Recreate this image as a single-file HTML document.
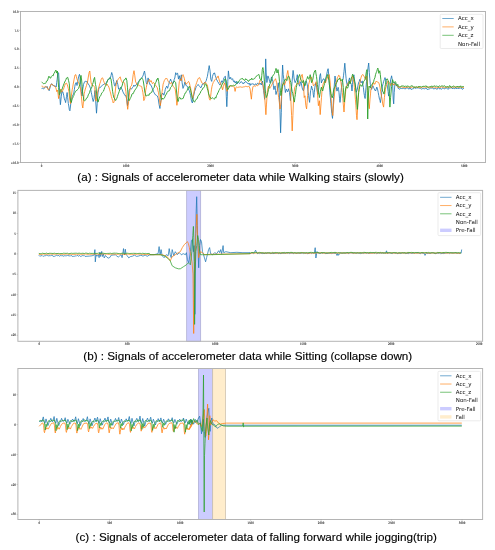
<!DOCTYPE html>
<html><head><meta charset="utf-8"><title>Accelerometer signals</title>
<style>
html,body{margin:0;padding:0;background:#fff;}
svg{display:block;}
.t{font-family:"DejaVu Sans","Liberation Sans",sans-serif;}
.c{font-family:"Liberation Sans",Arial,sans-serif;}
</style></head><body>
<svg width="495" height="550" viewBox="0 0 495 550">
<rect width="495" height="550" fill="#fff"/>
<g>
<rect x="20.5" y="11.5" width="465.0" height="151.0" fill="none" stroke="#b4b4b4" stroke-width="1"/>
<line x1="41.5" y1="162.5" x2="41.5" y2="163.9" stroke="#888" stroke-width="0.35"/>
<text transform="translate(41.50,166.60) scale(0.8,1)" font-size="3.2" text-anchor="middle" fill="#111" stroke="#111" stroke-width="0.08" class="t">0</text>
<line x1="126.05" y1="162.5" x2="126.05" y2="163.9" stroke="#888" stroke-width="0.35"/>
<text transform="translate(126.05,166.60) scale(0.8,1)" font-size="3.2" text-anchor="middle" fill="#111" stroke="#111" stroke-width="0.08" class="t">1000</text>
<line x1="210.6" y1="162.5" x2="210.6" y2="163.9" stroke="#888" stroke-width="0.35"/>
<text transform="translate(210.60,166.60) scale(0.8,1)" font-size="3.2" text-anchor="middle" fill="#111" stroke="#111" stroke-width="0.08" class="t">2000</text>
<line x1="295.15" y1="162.5" x2="295.15" y2="163.9" stroke="#888" stroke-width="0.35"/>
<text transform="translate(295.15,166.60) scale(0.8,1)" font-size="3.2" text-anchor="middle" fill="#111" stroke="#111" stroke-width="0.08" class="t">3000</text>
<line x1="379.7" y1="162.5" x2="379.7" y2="163.9" stroke="#888" stroke-width="0.35"/>
<text transform="translate(379.70,166.60) scale(0.8,1)" font-size="3.2" text-anchor="middle" fill="#111" stroke="#111" stroke-width="0.08" class="t">4000</text>
<line x1="464.25" y1="162.5" x2="464.25" y2="163.9" stroke="#888" stroke-width="0.35"/>
<text transform="translate(464.25,166.60) scale(0.8,1)" font-size="3.2" text-anchor="middle" fill="#111" stroke="#111" stroke-width="0.08" class="t">5000</text>
<line x1="19.1" y1="11.5" x2="20.5" y2="11.5" stroke="#888" stroke-width="0.35"/>
<text transform="translate(18.60,12.65) scale(0.8,1)" font-size="3.2" text-anchor="end" fill="#111" stroke="#111" stroke-width="0.08" class="t">10.0</text>
<line x1="19.1" y1="30.375" x2="20.5" y2="30.375" stroke="#888" stroke-width="0.35"/>
<text transform="translate(18.60,31.52) scale(0.8,1)" font-size="3.2" text-anchor="end" fill="#111" stroke="#111" stroke-width="0.08" class="t">7.5</text>
<line x1="19.1" y1="49.25" x2="20.5" y2="49.25" stroke="#888" stroke-width="0.35"/>
<text transform="translate(18.60,50.40) scale(0.8,1)" font-size="3.2" text-anchor="end" fill="#111" stroke="#111" stroke-width="0.08" class="t">5.0</text>
<line x1="19.1" y1="68.125" x2="20.5" y2="68.125" stroke="#888" stroke-width="0.35"/>
<text transform="translate(18.60,69.28) scale(0.8,1)" font-size="3.2" text-anchor="end" fill="#111" stroke="#111" stroke-width="0.08" class="t">2.5</text>
<line x1="19.1" y1="87.0" x2="20.5" y2="87.0" stroke="#888" stroke-width="0.35"/>
<text transform="translate(18.60,88.15) scale(0.8,1)" font-size="3.2" text-anchor="end" fill="#111" stroke="#111" stroke-width="0.08" class="t">0.0</text>
<line x1="19.1" y1="105.875" x2="20.5" y2="105.875" stroke="#888" stroke-width="0.35"/>
<text transform="translate(18.60,107.03) scale(0.8,1)" font-size="3.2" text-anchor="end" fill="#111" stroke="#111" stroke-width="0.08" class="t">−2.5</text>
<line x1="19.1" y1="124.75" x2="20.5" y2="124.75" stroke="#888" stroke-width="0.35"/>
<text transform="translate(18.60,125.90) scale(0.8,1)" font-size="3.2" text-anchor="end" fill="#111" stroke="#111" stroke-width="0.08" class="t">−5.0</text>
<line x1="19.1" y1="143.625" x2="20.5" y2="143.625" stroke="#888" stroke-width="0.35"/>
<text transform="translate(18.60,144.78) scale(0.8,1)" font-size="3.2" text-anchor="end" fill="#111" stroke="#111" stroke-width="0.08" class="t">−7.5</text>
<line x1="19.1" y1="162.5" x2="20.5" y2="162.5" stroke="#888" stroke-width="0.35"/>
<text transform="translate(18.60,163.65) scale(0.8,1)" font-size="3.2" text-anchor="end" fill="#111" stroke="#111" stroke-width="0.08" class="t">−10.0</text>
<polyline points="41.6,88.5 42.2,88.0 42.8,88.3 43.5,89.0 44.1,88.7 44.7,87.4 45.3,87.0 45.9,86.7 46.5,87.2 47.1,86.4 47.7,88.2 48.3,89.2 49.2,90.7 49.6,89.1 50.1,87.2 50.7,85.3 51.3,84.0 51.9,83.7 52.5,84.5 53.2,85.9 53.8,85.5 54.4,85.8 55.0,86.0 55.6,86.3 56.2,87.0 56.7,82.6 57.2,79.2 57.8,73.4 58.6,72.8 59.2,82.1 59.8,96.6 60.4,104.7 61.3,96.2 61.9,91.1 62.4,92.2 62.8,91.8 63.7,95.3 64.2,98.1 64.7,100.1 65.2,100.8 65.6,102.6 66.5,96.5 67.1,92.5 67.7,97.7 68.3,103.4 68.8,106.0 69.3,109.6 69.9,110.8 70.5,106.0 71.3,98.9 71.9,97.4 72.5,95.5 73.2,94.6 73.8,93.1 74.4,89.3 74.8,86.4 75.3,84.0 76.2,82.5 77.0,85.5 77.8,81.3 78.6,76.7 79.5,74.3 80.2,77.9 80.7,84.3 81.4,91.7 81.9,96.1 82.6,90.2 83.5,84.5 84.1,82.9 84.7,81.6 85.3,81.1 85.9,81.8 86.5,81.9 87.1,81.2 87.7,83.1 88.3,84.3 88.9,84.6 89.5,85.8 90.4,88.2 90.8,89.8 91.3,92.5 91.8,94.9 92.3,97.7 93.2,101.5 94.0,98.8 94.5,94.5 95.0,90.5 95.6,99.8 96.5,113.2 97.2,103.7 98.0,92.8 98.6,89.7 99.2,87.6 99.8,87.1 100.5,87.4 101.1,86.6 101.7,85.8 102.3,85.5 102.9,84.7 103.5,84.6 104.1,84.0 104.7,83.7 105.3,83.9 105.9,83.2 106.5,82.3 107.1,81.1 107.7,80.3 108.3,79.5 108.9,79.6 109.5,78.2 110.2,78.3 111.0,75.6 111.7,72.5 112.6,75.4 113.2,79.3 113.7,81.4 114.2,84.2 115.0,86.2 115.8,83.0 116.3,82.3 116.8,80.5 117.3,82.5 117.8,84.4 118.6,89.1 119.2,89.1 119.8,88.5 120.5,87.4 121.1,87.0 121.7,88.9 122.3,89.9 122.9,91.8 123.5,92.9 124.1,94.1 124.7,94.9 125.3,95.9 125.9,95.5 126.8,99.9 127.5,105.8 128.3,97.5 129.2,90.2 129.7,89.3 130.2,88.6 130.8,88.8 131.4,88.9 132.0,88.6 132.6,87.4 133.2,86.8 133.8,85.1 134.4,85.9 135.0,86.3 135.6,85.1 136.2,84.6 136.8,84.7 137.4,83.5 138.0,82.3 138.6,81.4 139.2,80.4 139.8,79.8 140.5,79.0 141.1,78.7 141.7,78.2 142.3,76.9 142.9,76.1 143.5,74.2 144.0,72.4 144.5,71.0 145.3,75.7 146.2,82.4 146.6,83.9 147.1,84.1 147.6,80.8 148.1,77.9 148.9,81.8 149.5,83.0 150.0,84.8 150.6,84.8 151.2,85.7 151.8,87.1 152.4,88.7 153.0,89.7 153.6,91.8 154.2,92.8 154.8,93.9 155.5,94.9 156.1,95.0 156.7,95.6 157.3,96.0 157.8,97.3 158.2,98.7 159.1,104.6 159.9,108.5 160.7,102.2 161.5,95.1 162.1,94.0 162.7,93.0 163.3,94.2 163.9,95.2 164.8,91.8 165.3,89.4 165.8,87.8 166.2,87.2 166.7,86.1 167.6,88.3 168.4,85.4 168.9,84.1 169.4,81.6 170.0,80.9 170.6,79.1 171.1,80.9 171.6,81.3 172.4,83.5 173.0,83.4 173.6,82.0 174.2,79.4 174.8,78.0 175.7,72.7 176.2,74.3 176.7,74.3 177.2,73.3 177.6,73.2 178.5,79.1 179.3,75.7 179.8,78.2 180.3,80.6 180.8,77.4 181.3,74.8 182.1,82.6 183.0,88.4 183.5,87.2 183.9,86.0 184.4,84.2 184.9,82.1 185.8,85.1 186.4,85.8 187.0,85.9 187.6,86.8 188.2,88.2 188.8,90.2 189.4,90.6 190.0,93.1 190.6,95.4 191.5,101.1 191.9,102.0 192.4,103.0 192.9,100.3 193.4,96.5 194.0,94.4 194.6,91.2 195.2,90.0 195.8,87.8 196.4,86.5 197.0,85.7 197.6,85.2 198.2,84.5 198.8,85.5 199.5,86.3 200.1,86.9 200.7,87.9 201.3,87.1 201.9,85.4 202.5,84.0 203.1,83.7 203.7,83.5 204.3,82.7 205.0,82.5 205.6,81.7 206.2,80.7 206.8,78.3 207.4,76.4 207.9,73.2 208.4,70.5 209.2,65.6 210.1,71.2 210.8,79.2 211.7,81.4 212.5,76.4 213.0,74.8 213.5,73.5 214.0,73.9 214.5,72.8 215.3,75.6 216.2,78.2 216.6,79.8 217.1,80.1 217.6,81.6 218.1,82.1 218.9,83.6 219.8,84.9 220.3,84.7 220.8,83.4 221.2,82.1 221.7,80.8 222.6,82.3 223.4,79.7 223.9,77.9 224.4,77.3 224.9,76.4 225.4,76.3 225.8,84.0 226.3,96.3 226.8,106.7 227.3,96.2 227.8,81.6 228.4,70.9 229.0,76.3 229.8,79.1 230.7,77.3 231.2,78.9 231.7,79.5 232.2,79.2 232.6,78.7 233.5,81.6 234.3,80.9 234.8,82.3 235.3,83.1 235.8,81.8 236.3,81.2 237.1,84.0 237.7,82.5 238.3,82.4 238.9,82.7 239.5,83.4 240.2,82.9 240.8,81.8 241.4,81.6 242.0,82.7 242.6,82.9 243.2,83.9 243.8,82.8 244.4,83.0 245.0,81.9 245.6,81.4 246.2,82.4 246.8,82.3 247.4,82.8 248.0,83.9 248.6,83.9 249.2,83.1 250.1,85.5 250.8,83.6 251.7,84.3 252.3,84.2 252.9,83.5 253.5,84.4 254.1,85.0 254.7,85.0 255.3,84.1 255.9,83.6 256.5,84.8 257.1,84.1 257.7,83.2 258.3,83.5 258.9,84.3 259.5,84.1 260.0,83.0 260.7,83.7 261.3,85.0 261.9,82.5 262.5,81.0 263.0,85.7 263.6,90.6 264.1,94.7 264.6,99.3 265.2,79.2 265.7,58.9 266.2,72.9 266.9,82.5 267.4,78.8 267.9,75.9 268.4,76.9 269.0,79.0 269.6,81.2 270.1,82.9 270.8,80.4 271.5,76.9 272.1,78.7 272.8,81.4 273.3,85.3 273.9,89.6 274.5,87.4 275.1,85.9 275.5,90.4 276.0,94.5 276.6,92.1 277.2,90.8 277.8,86.1 278.3,82.8 278.8,88.2 279.3,92.6 280.0,111.9 280.6,132.8 281.3,112.3 281.9,82.5 282.6,65.0 283.2,74.7 283.7,78.6 284.2,82.6 284.8,87.2 285.4,92.5 285.9,90.7 286.5,89.1 287.0,90.7 287.5,91.8 288.1,90.7 288.6,88.8 289.5,92.5 290.0,96.9 290.4,100.6 291.1,92.5 291.6,86.9 292.1,81.4 292.6,75.1 293.1,70.4 293.6,73.9 294.0,78.0 294.6,80.9 295.2,82.7 295.8,80.9 296.3,80.3 296.8,77.5 297.3,74.7 297.9,79.0 298.5,82.7 299.0,84.4 299.6,86.2 300.3,83.3 300.9,81.7 301.6,85.0 302.2,88.0 302.8,89.9 303.4,90.8 303.9,89.1 304.5,85.9 305.0,82.7 305.7,81.4 306.3,81.2 306.9,83.4 307.5,86.1 308.0,91.6 308.6,95.6 309.1,99.3 309.6,102.4 310.1,96.3 310.6,90.6 311.1,89.1 311.5,86.1 312.2,88.6 312.9,90.6 313.3,94.7 313.8,97.4 314.3,92.5 314.8,87.7 315.3,85.1 315.8,83.1 316.3,85.1 316.8,87.8 317.3,91.3 317.8,94.5 318.3,91.3 318.7,89.2 319.2,83.4 319.7,76.3 320.5,73.6 321.4,83.0 322.0,81.0 322.7,80.1 323.3,78.9 324.0,78.8 324.6,80.7 325.3,82.6 325.8,79.4 326.3,76.0 326.8,74.0 327.3,71.5 328.1,68.7 328.9,76.4 329.4,83.7 329.9,92.6 330.4,97.8 330.9,103.7 331.4,109.0 331.8,113.5 332.5,118.4 333.2,105.4 333.6,96.5 334.1,87.9 335.0,76.0 335.8,82.5 336.3,87.2 336.9,91.1 337.5,90.0 338.1,87.3 338.6,89.6 339.0,92.5 339.5,98.2 340.0,102.4 340.5,98.0 341.0,92.4 341.5,87.6 342.0,82.9 342.5,80.7 343.0,79.5 343.5,75.8 344.0,71.5 344.8,63.2 345.6,73.1 346.1,78.5 346.6,82.8 347.1,84.0 347.6,85.8 348.0,82.9 348.5,81.4 349.0,79.6 349.5,77.9 350.0,81.4 350.7,83.0 351.3,84.3 352.0,91.0 352.5,84.6 352.9,79.3 353.4,76.8 353.9,74.8 354.4,78.9 354.9,82.8 355.6,87.5 356.2,92.4 356.8,90.8 357.4,89.0 357.9,85.8 358.5,83.0 359.2,81.5 359.8,79.3 360.5,81.1 361.1,82.9 361.7,81.5 362.3,81.0 362.8,84.5 363.4,87.4 363.9,92.3 364.4,95.5 365.1,98.5 365.5,93.2 366.0,87.6 366.5,81.6 367.0,76.4 367.5,72.4 368.0,67.8 368.7,63.0 369.3,72.6 369.8,78.8 370.3,84.3 370.9,86.6 371.6,89.4 372.3,87.3 372.9,85.8 373.6,87.6 374.2,88.7 374.9,90.1 375.5,91.0 376.2,89.2 376.8,87.1 377.5,89.0 378.2,92.4 378.8,95.6 379.5,99.3 380.0,100.5 380.4,102.6 380.9,98.8 381.4,96.1 381.9,90.8 382.4,86.1 383.1,83.7 383.7,81.3 384.4,79.5 385.0,77.6 385.7,80.2 386.3,82.8 387.0,84.6 387.6,87.9 388.1,91.5 388.6,96.1 389.1,93.2 389.6,91.2 390.1,85.5 390.6,79.4 391.1,78.1 391.6,75.8 392.1,78.9 392.6,82.8 393.2,99.0 393.7,103.9 394.2,92.7 395.0,82.7 395.6,84.1 396.2,85.4 396.8,86.1 397.5,85.7 398.2,88.4 399.0,88.6 399.8,89.3 400.6,88.4 401.4,88.5 402.2,88.7 403.0,87.9 403.8,88.5 404.6,88.7 405.4,89.0 406.2,87.8 407.0,88.1 407.8,87.8 408.6,89.1 409.4,88.8 410.2,87.7 411.0,89.4 411.8,89.3 412.6,88.8 413.4,88.7 414.2,87.9 415.0,87.6 415.8,88.6 416.6,87.7 417.4,87.9 418.2,88.0 419.0,87.7 419.8,88.4 420.6,88.4 421.4,89.1 422.2,88.5 423.0,88.8 423.8,88.5 424.6,88.8 425.4,88.4 426.2,88.1 427.0,89.4 427.8,89.4 428.6,89.1 429.4,88.9 430.2,88.2 431.0,88.0 431.8,88.1 432.6,87.7 433.4,89.0 434.2,88.3 435.0,89.1 435.8,88.3 436.6,89.3 437.4,89.1 438.2,87.6 439.0,88.0 439.8,89.2 440.6,88.4 441.4,89.4 442.2,88.3 443.0,87.7 443.8,88.7 444.6,89.0 445.4,88.1 446.2,87.8 447.0,88.2 447.8,89.3 448.6,89.0 449.4,87.8 450.2,88.0 451.0,87.8 451.8,87.7 452.6,89.0 453.4,87.9 454.2,88.6 455.0,88.4 455.8,87.9 456.6,88.9 457.4,87.8 458.2,88.8 459.0,87.8 459.8,88.4 460.6,88.0 461.4,88.1 462.2,89.3 463.0,89.0 463.8,88.1" fill="none" stroke="#1f77b4" stroke-width="0.85" stroke-opacity="1" stroke-linejoin="round"/>
<polyline points="41.6,86.1 42.2,86.1 42.8,86.6 43.5,87.2 44.1,87.4 44.7,86.9 45.3,86.8 45.9,86.5 46.5,87.1 47.1,87.4 47.7,88.5 48.3,89.9 48.9,89.4 49.5,88.4 50.1,86.3 50.7,85.0 51.3,84.2 51.9,84.0 52.5,84.8 53.2,85.3 53.8,85.6 54.4,86.4 55.0,86.4 55.6,87.1 56.2,89.1 56.8,91.7 57.6,90.1 58.1,94.3 58.6,98.6 59.2,95.0 59.8,91.8 60.4,89.0 61.0,90.3 61.6,92.0 62.2,91.6 62.8,90.2 63.5,89.0 64.1,87.4 64.7,85.5 65.3,83.7 65.9,83.5 66.5,83.1 67.1,84.3 67.7,86.0 68.3,88.6 68.9,91.5 69.8,100.2 70.5,103.6 71.3,96.2 72.2,89.7 72.7,87.2 73.2,84.2 73.6,82.0 74.1,79.2 75.0,75.0 75.8,74.6 76.3,76.3 76.8,78.7 77.4,80.2 78.0,81.7 78.6,82.7 79.2,84.0 79.8,86.4 80.4,88.0 80.9,92.5 81.4,96.4 82.2,105.0 82.8,108.0 83.5,101.3 84.1,93.9 84.7,91.5 85.3,89.0 85.9,87.2 86.5,85.5 87.0,83.4 87.5,82.0 88.3,77.0 89.2,72.2 89.8,71.0 90.4,77.0 91.1,82.9 91.7,84.3 92.3,85.9 92.9,85.4 93.5,85.6 94.1,86.4 94.7,87.5 95.3,94.5 96.0,101.1 96.8,96.6 97.4,93.7 98.0,90.3 98.6,87.8 99.2,86.0 99.8,83.7 100.5,81.8 101.1,79.7 101.7,78.3 102.5,77.8 103.0,78.9 103.5,80.7 104.1,82.2 104.7,83.6 105.3,84.9 105.9,85.4 106.5,85.1 107.1,84.1 107.7,85.5 108.3,85.9 108.9,87.2 109.5,89.2 110.2,91.7 110.8,94.0 111.4,96.6 112.0,98.7 112.6,100.6 113.2,103.0 113.7,102.5 114.2,101.4 115.0,93.8 115.8,86.6 116.3,84.2 116.8,82.0 117.4,80.2 118.0,79.5 118.6,78.6 119.2,78.2 119.7,77.3 120.2,76.8 121.1,80.2 121.7,81.2 122.3,82.6 122.9,82.4 123.5,81.9 124.1,82.4 124.7,83.7 125.3,88.0 125.9,91.5 126.8,101.0 127.2,104.9 127.7,109.3 128.2,105.5 128.7,101.1 129.5,92.7 130.4,86.8 130.9,86.4 131.4,85.9 131.8,84.3 132.3,81.9 133.2,74.5 134.0,70.7 134.8,75.8 135.6,81.9 136.2,82.8 136.8,84.1 137.4,84.7 138.0,85.0 138.6,85.1 139.2,85.4 139.8,85.9 140.5,86.1 141.1,86.1 141.7,86.6 142.3,89.5 142.9,92.6 143.4,96.3 143.8,100.6 144.7,98.7 145.2,94.8 145.7,90.2 146.3,87.6 146.9,84.4 147.6,82.2 148.3,80.5 148.9,80.1 149.5,79.4 150.0,81.8 150.6,80.9 151.2,80.6 151.8,82.3 152.4,83.6 153.0,82.8 153.6,82.6 154.2,83.2 154.8,84.4 155.5,85.3 156.1,85.9 156.7,86.9 157.3,87.7 157.9,90.5 158.5,92.7 159.0,96.0 159.5,100.2 160.3,105.6 161.2,100.0 161.6,95.8 162.1,91.3 162.6,88.3 163.1,84.2 163.7,82.4 164.3,80.6 164.9,79.7 165.5,78.6 166.1,78.8 166.7,78.2 167.3,79.3 167.9,80.8 168.5,81.8 169.2,82.5 169.8,83.4 170.4,83.6 171.0,82.7 171.6,82.4 172.2,84.0 172.8,85.6 173.4,86.6 174.0,87.3 174.6,88.3 175.2,89.2 176.1,96.4 176.9,105.3 177.6,100.0 178.5,90.2 179.3,81.6 179.8,80.4 180.3,78.9 180.8,79.5 181.3,80.7 182.1,75.8 183.0,74.6 183.5,76.1 183.9,77.0 184.4,78.8 184.9,81.3 185.5,82.6 186.1,84.2 186.7,83.8 187.3,82.9 187.9,82.2 188.5,81.4 189.4,82.9 190.0,85.7 190.6,88.0 191.2,91.4 191.8,95.3 192.7,98.6 193.2,96.1 193.6,94.1 194.2,91.0 194.8,87.7 195.5,85.8 196.1,84.2 196.7,82.5 197.3,80.8 197.9,79.1 198.5,78.2 199.1,77.8 199.7,77.6 200.3,79.4 200.9,80.5 201.5,82.1 202.1,83.1 202.7,83.5 203.3,84.1 203.9,84.1 204.5,83.8 205.0,82.1 205.6,82.4 206.2,83.4 206.8,84.4 207.4,85.1 207.9,88.1 208.4,91.1 209.2,98.3 210.1,100.2 210.6,96.6 211.1,92.3 211.5,89.2 212.0,86.3 212.6,84.3 213.2,82.6 213.8,81.7 214.5,80.2 215.1,79.7 215.7,78.9 216.3,78.5 216.9,78.0 217.5,76.9 218.1,75.9 218.9,78.9 219.8,82.0 220.3,83.3 220.8,84.4 221.2,85.4 221.7,86.4 222.6,89.8 223.4,86.4 223.9,84.9 224.4,82.8 224.9,83.9 225.4,85.3 226.2,89.0 227.1,91.4 227.5,89.8 228.0,87.7 228.5,87.0 229.0,85.9 229.7,85.9 230.5,86.2 231.1,86.1 231.7,85.8 232.3,85.9 232.9,86.3 233.5,86.3 234.1,86.8 234.6,88.9 235.1,91.4 235.9,87.4 236.5,87.0 237.1,86.9 237.7,87.5 238.3,87.1 238.9,87.4 239.5,87.0 240.2,87.0 240.8,86.8 241.4,87.2 242.0,86.9 242.6,87.2 243.2,86.9 243.8,86.9 244.4,86.8 245.0,86.5 245.6,86.3 246.2,86.3 246.8,86.7 247.4,86.7 248.0,86.9 248.6,86.3 249.2,86.5 250.1,88.9 250.8,95.0 251.4,99.2 252.0,92.4 252.9,86.9 253.5,86.1 254.1,85.7 254.7,86.0 255.3,86.5 255.9,85.5 256.5,85.2 257.1,85.6 257.7,85.8 258.3,84.9 258.9,83.8 259.5,81.8 260.0,80.3 260.5,80.9 261.1,81.7 261.6,82.0 262.2,83.1 262.7,84.4 263.3,86.1 263.9,90.5 264.6,96.0 265.4,107.1 265.9,114.7 266.5,104.1 267.4,90.8 267.9,88.1 268.5,86.1 269.2,87.4 269.8,88.3 270.4,87.3 270.9,86.5 271.5,85.3 272.0,84.3 272.5,83.2 273.1,82.8 273.7,81.5 274.4,80.2 275.0,79.5 275.5,78.7 276.1,80.7 276.7,82.8 277.3,87.7 278.0,92.7 278.7,97.7 279.3,102.2 280.0,109.0 280.5,106.3 280.9,104.0 281.5,96.4 282.1,89.2 282.7,85.9 283.2,82.7 283.9,83.6 284.5,85.1 285.2,83.1 285.9,81.1 286.4,77.8 287.0,74.4 287.8,70.5 288.3,74.1 288.8,77.1 289.3,80.7 289.8,84.5 290.3,91.6 290.8,99.0 291.6,115.5 292.2,130.9 292.9,115.4 293.7,95.9 294.2,91.7 294.7,87.5 295.4,86.2 296.0,85.3 296.7,84.1 297.3,82.9 298.0,83.7 298.6,84.3 299.3,82.9 299.9,81.2 300.6,78.9 301.2,76.4 301.7,75.1 302.2,74.4 302.8,78.4 303.4,82.9 304.2,97.5 305.0,95.8 305.8,105.5 306.6,108.9 307.1,102.5 307.6,95.6 308.1,90.4 308.6,84.5 309.3,82.2 309.9,79.6 310.6,78.2 311.2,76.9 311.8,79.0 312.4,81.1 312.9,83.6 313.5,85.9 314.2,85.0 314.8,84.4 315.5,83.3 316.1,81.7 316.7,86.7 317.3,91.0 317.8,98.3 318.4,105.7 318.9,103.4 319.4,100.7 320.2,114.6 321.0,103.8 321.5,97.3 322.0,90.7 322.5,87.4 323.0,84.4 323.7,82.6 324.3,81.3 324.9,81.9 325.5,82.9 326.0,80.9 326.6,79.7 327.3,78.1 327.9,76.3 328.6,75.6 329.2,74.6 329.7,78.4 330.2,82.9 330.7,91.3 331.2,99.1 332.0,110.7 332.8,115.5 333.6,104.1 334.2,97.8 334.8,91.0 335.4,86.5 336.1,82.7 336.8,80.3 337.4,77.7 338.0,76.8 338.6,75.3 339.1,75.4 339.7,76.1 340.4,79.6 341.0,82.8 341.7,87.5 342.3,92.5 342.8,98.4 343.3,104.1 344.0,112.0 344.8,100.6 345.3,94.9 345.9,89.2 346.6,86.6 347.2,84.3 347.9,83.3 348.5,82.5 349.0,81.9 349.5,81.1 350.0,82.8 350.7,81.4 351.3,79.6 352.0,77.8 352.6,76.1 353.3,79.6 353.9,82.7 354.4,87.7 354.9,92.7 355.4,99.3 355.9,105.8 356.5,115.6 357.0,119.7 357.7,107.5 358.5,92.6 359.0,88.7 359.5,84.4 360.0,82.3 360.5,79.5 361.1,77.3 361.8,75.4 362.4,74.7 363.1,74.7 363.7,75.8 364.4,76.9 365.1,78.4 365.7,79.5 366.2,77.9 366.7,76.1 367.3,82.7 368.0,92.4 368.7,104.0 369.3,108.7 370.0,99.1 370.5,93.9 370.9,89.2 371.6,87.9 372.3,86.1 372.9,84.1 373.6,82.5 374.2,83.9 374.9,84.3 375.5,82.4 376.2,81.1 376.8,81.8 377.5,82.0 378.2,82.2 378.8,82.7 379.5,85.1 380.1,87.8 380.6,91.2 381.1,94.1 381.6,96.7 382.1,99.2 382.7,103.9 383.6,107.1 384.4,97.5 384.9,93.5 385.4,89.2 386.0,86.9 386.7,84.4 387.3,82.9 388.0,80.9 388.6,81.8 389.3,82.6 389.9,83.7 390.6,85.4 391.2,84.1 391.9,82.9 392.6,83.9 393.2,85.1 393.9,84.0 394.5,83.7 395.2,84.7 395.8,85.3 396.4,85.1 396.9,85.7 397.5,85.8 398.2,87.3 399.0,87.5 399.8,87.5 400.6,86.9 401.4,86.8 402.2,87.2 403.0,87.1 403.8,87.6 404.6,87.5 405.4,87.4 406.2,87.4 407.0,87.5 407.8,86.9 408.6,87.2 409.4,87.0 410.2,87.7 411.0,86.9 411.8,87.6 412.6,86.9 413.4,87.5 414.2,87.1 415.0,87.2 415.8,87.6 416.6,86.8 417.4,86.9 418.2,87.7 419.0,87.3 419.8,86.9 420.6,87.8 421.4,87.7 422.2,86.9 423.0,87.2 423.8,86.9 424.6,87.1 425.4,87.4 426.2,87.0 427.0,87.5 427.8,86.9 428.6,87.0 429.4,87.6 430.2,87.2 431.0,87.2 431.8,87.4 432.6,87.3 433.4,87.2 434.2,86.8 435.0,87.5 435.8,87.8 436.6,87.8 437.4,87.5 438.2,87.2 439.0,87.2 439.8,87.5 440.6,87.5 441.4,86.9 442.2,87.0 443.0,87.2 443.8,87.3 444.6,87.6 445.4,87.3 446.2,86.8 447.0,87.6 447.8,87.2 448.6,87.3 449.4,87.0 450.2,87.2 451.0,87.2 451.8,87.6 452.6,86.9 453.4,87.3 454.2,87.0 455.0,87.5 455.8,86.8 456.6,87.1 457.4,87.1 458.2,87.4 459.0,86.9 459.8,87.3 460.6,87.0 461.4,87.1 462.2,87.3 463.0,87.8 463.8,87.3" fill="none" stroke="#ff7f0e" stroke-width="0.8" stroke-opacity="1" stroke-linejoin="round"/>
<polyline points="41.6,81.8 42.2,82.4 42.8,83.0 43.5,83.8 44.1,83.4 44.7,83.5 45.3,83.5 45.9,82.8 46.5,81.1 47.1,81.1 47.7,80.1 48.3,77.9 48.9,76.2 49.5,77.0 50.1,78.1 50.7,78.1 51.3,76.5 51.9,75.8 52.5,75.6 53.2,75.8 53.8,73.5 54.4,73.1 55.0,71.7 55.5,70.5 55.9,70.0 56.8,73.1 57.4,71.0 58.0,78.3 58.6,87.5 59.2,94.8 59.8,94.2 60.4,91.3 61.0,90.1 61.6,90.1 62.2,88.9 62.8,86.9 63.5,85.1 64.1,83.4 64.7,82.0 65.3,80.8 65.9,79.7 66.5,78.0 67.1,77.7 67.7,77.3 68.5,80.3 69.3,83.8 69.8,91.9 70.5,100.2 71.3,102.5 71.9,99.9 72.5,98.5 73.2,96.6 73.8,95.6 74.4,93.4 75.0,92.5 75.6,91.3 76.2,90.6 76.8,90.6 77.4,89.7 78.0,89.0 78.6,88.4 79.2,86.4 79.8,84.5 80.4,78.0 81.0,75.4 81.6,80.0 82.2,86.6 82.8,94.2 83.3,96.3 83.8,100.3 84.7,100.8 85.3,100.4 85.9,99.3 86.5,98.2 87.1,97.9 87.7,96.7 88.3,94.8 88.9,93.9 89.5,92.8 90.1,90.4 90.7,89.3 91.3,88.4 91.9,86.9 92.5,84.5 93.2,82.4 94.0,78.8 94.6,77.4 95.0,80.9 95.5,84.5 96.0,86.7 96.8,95.9 97.4,98.9 98.0,102.1 98.6,100.0 99.2,98.4 99.8,96.7 100.5,95.9 101.1,94.8 101.7,93.1 102.3,92.6 102.9,91.7 103.5,91.1 104.1,89.4 104.7,87.5 105.3,86.3 105.9,85.3 106.5,83.4 107.1,82.0 107.7,80.1 108.3,79.1 108.9,78.5 109.5,78.1 110.2,77.8 111.0,79.1 111.7,83.9 112.6,91.3 113.2,94.7 113.8,97.6 114.4,98.2 115.0,99.7 115.6,100.5 116.2,99.0 116.8,98.6 117.4,96.6 118.0,94.7 118.6,93.2 119.2,91.5 119.8,89.3 120.5,89.3 121.1,87.2 121.7,86.8 122.3,85.1 122.9,82.7 123.5,81.4 124.1,79.7 124.7,79.6 125.3,79.3 125.9,77.9 126.8,80.3 127.5,87.8 128.1,96.6 128.9,100.8 129.5,100.1 130.2,98.6 130.8,97.4 131.4,96.1 132.0,94.0 132.6,93.5 133.2,93.7 133.8,92.2 134.4,90.9 135.0,90.0 135.6,89.1 136.2,88.3 136.8,87.3 137.4,86.0 138.0,84.0 138.6,82.7 139.2,81.3 139.8,80.3 140.5,79.0 141.1,78.7 141.7,77.8 142.3,78.5 142.8,79.5 143.2,80.6 144.1,86.2 144.9,92.5 145.4,93.7 145.9,96.0 146.5,95.8 147.1,95.6 147.7,95.1 148.3,95.0 148.9,95.5 149.5,93.7 150.0,93.9 150.6,93.1 151.2,92.3 151.8,92.3 152.4,90.4 153.0,88.9 153.6,88.2 154.2,87.5 154.8,84.6 155.5,82.7 156.1,82.1 156.7,79.5 157.3,79.6 157.9,78.0 158.7,81.5 159.5,87.5 160.3,94.9 160.9,97.8 161.5,99.4 162.1,99.3 162.7,98.1 163.3,99.2 163.9,98.4 164.5,97.8 165.2,96.1 165.8,94.6 166.4,94.3 167.0,92.6 167.6,91.8 168.2,90.8 168.8,91.1 169.4,90.7 170.0,89.2 170.6,87.4 171.2,86.8 171.8,86.3 172.4,84.5 173.0,83.2 173.6,82.3 174.2,81.1 174.8,81.5 175.7,82.7 176.4,90.0 177.3,98.4 178.1,101.5 178.6,99.5 179.1,97.6 179.7,97.3 180.3,98.1 180.9,99.3 181.5,99.0 182.1,98.4 182.7,98.8 183.3,98.0 183.9,96.1 184.5,94.7 185.2,93.0 185.8,92.8 186.4,91.4 187.0,90.7 187.6,89.1 188.1,88.0 188.5,87.4 189.4,86.3 190.2,88.9 190.7,90.6 191.2,92.7 191.7,94.8 192.2,97.6 192.8,99.5 193.4,101.0 194.0,101.4 194.6,102.2 195.3,100.4 196.1,99.8 196.7,98.7 197.3,98.5 197.9,96.3 198.5,95.4 199.1,95.0 199.7,93.7 200.3,93.0 200.9,91.2 201.5,90.5 202.1,90.0 202.7,88.3 203.3,88.0 203.9,87.6 204.5,86.5 205.0,83.8 205.6,83.9 206.2,84.7 206.8,86.6 207.4,88.8 208.0,90.8 208.6,93.9 209.2,95.4 209.8,96.8 210.5,98.2 211.1,98.3 211.7,98.5 212.3,97.7 212.9,98.1 213.5,98.7 214.1,99.3 214.7,98.8 215.3,97.3 215.9,98.1 216.5,95.6 217.1,94.8 217.7,93.0 218.3,92.2 218.9,90.5 219.5,89.4 220.2,88.2 220.8,87.4 221.4,85.9 222.0,84.8 222.6,83.1 223.2,82.8 223.8,81.9 224.4,80.5 224.9,79.0 225.4,78.9 226.2,80.5 226.8,87.5 227.3,88.5 227.8,89.7 228.6,88.0 229.2,87.4 229.8,86.0 230.5,85.5 231.1,86.0 231.7,85.8 232.3,86.2 232.9,85.4 233.5,85.0 234.1,85.6 234.7,85.6 235.3,85.3 235.9,84.2 236.5,83.7 237.1,82.8 237.7,81.8 238.3,81.8 238.9,81.7 239.5,80.4 240.2,79.5 240.8,78.8 241.4,79.0 242.0,78.3 242.6,78.5 243.2,79.7 243.8,79.5 244.4,80.4 245.0,80.2 245.6,78.7 246.2,79.6 246.8,79.4 247.4,80.0 248.0,81.1 248.6,81.4 249.2,80.1 249.8,80.2 250.5,79.0 251.1,79.6 251.7,78.2 252.3,79.4 252.9,79.3 253.5,79.2 254.1,78.7 254.7,78.6 255.3,77.5 255.9,76.8 256.5,76.0 257.1,75.7 257.7,75.0 258.3,74.7 258.9,74.4 259.5,76.9 260.0,79.0 260.7,79.7 261.3,80.6 261.8,75.4 262.3,69.5 262.9,67.5 263.4,70.6 263.9,74.8 264.4,81.8 264.9,88.0 265.6,93.3 266.2,97.6 266.8,96.2 267.4,94.8 267.9,92.4 268.5,89.6 269.2,86.6 269.8,84.1 270.5,83.2 271.1,81.5 271.8,78.5 272.4,76.7 273.2,75.1 273.9,74.6 274.5,73.5 275.1,71.0 275.5,70.6 276.0,68.4 276.5,70.3 277.0,73.0 277.5,71.7 278.0,69.6 278.5,73.3 279.0,76.1 279.5,81.7 280.0,87.7 280.5,90.8 280.9,95.6 281.4,92.3 281.9,89.4 282.4,86.3 282.9,84.1 283.6,83.6 284.2,81.2 284.9,79.7 285.5,78.9 286.2,79.8 286.8,80.6 287.5,78.3 288.2,76.3 288.8,76.3 289.5,77.8 290.1,80.1 290.8,82.5 291.4,86.6 292.1,91.3 292.7,93.3 293.2,96.3 293.8,99.2 294.4,102.1 294.9,97.4 295.4,94.6 295.8,91.0 296.3,87.2 296.8,85.2 297.3,82.4 297.9,79.4 298.5,76.6 299.0,76.2 299.6,74.5 300.3,77.5 300.9,79.5 301.6,80.3 302.2,82.6 302.9,82.1 303.5,80.5 304.0,83.1 304.5,85.6 305.0,85.9 305.7,83.1 306.3,79.7 307.0,78.6 307.6,76.5 308.3,78.5 308.9,79.3 309.6,76.8 310.2,74.7 310.9,78.0 311.5,82.6 312.2,80.9 312.9,79.2 313.5,75.2 314.2,72.2 314.8,70.9 315.5,70.1 316.0,73.9 316.5,76.6 316.9,79.8 317.4,84.5 317.9,87.7 318.4,92.3 318.9,94.4 319.4,97.6 319.9,94.3 320.4,91.2 320.9,89.2 321.4,87.1 322.0,89.5 322.7,91.0 323.3,88.0 324.0,85.7 324.6,83.4 325.3,79.7 325.8,78.5 326.3,77.4 326.9,76.3 327.6,74.5 328.2,76.8 328.9,80.2 329.4,84.7 329.9,88.0 330.4,90.0 330.9,93.7 331.5,95.7 332.2,97.8 332.7,95.7 333.2,92.9 333.8,89.3 334.5,87.4 335.1,86.5 335.8,84.3 336.4,82.8 337.1,82.3 337.7,79.8 338.4,79.4 339.0,79.3 339.7,78.0 340.4,80.2 341.0,80.9 341.7,80.0 342.3,79.1 342.8,82.5 343.3,87.6 343.8,95.9 344.3,102.1 344.8,97.1 345.3,91.1 345.8,88.0 346.2,86.4 346.9,87.7 347.6,88.1 348.2,86.5 348.9,83.1 349.5,81.1 350.0,83.9 350.7,81.6 351.3,77.9 352.0,76.6 352.6,74.2 353.3,76.1 353.9,78.1 354.6,81.5 355.2,84.1 355.7,88.2 356.2,92.5 356.9,104.0 357.4,109.4 358.2,97.9 358.7,92.5 359.2,89.4 359.8,86.2 360.5,84.7 361.1,85.2 361.8,86.4 362.4,85.1 363.1,83.1 363.7,81.3 364.4,80.7 365.1,79.1 365.7,76.2 366.4,71.5 367.0,69.6 367.3,90.8 367.7,119.0 368.2,99.0 369.0,86.0 369.6,86.6 370.3,87.8 370.9,85.6 371.6,85.2 372.3,84.1 372.9,82.9 373.6,81.8 374.2,79.3 374.9,77.8 375.5,74.7 376.2,72.7 376.8,71.3 377.3,69.4 377.8,68.1 378.3,69.6 378.8,73.3 379.3,71.8 379.8,70.8 380.3,74.6 380.8,79.3 381.3,83.1 381.8,87.9 382.2,89.1 382.7,91.3 383.4,92.2 384.0,94.1 384.5,90.9 385.0,86.3 385.5,84.3 386.0,80.7 386.7,79.1 387.3,78.8 388.0,80.4 388.6,82.4 389.3,93.8 389.9,107.1 390.6,97.3 391.1,92.0 391.6,86.4 392.1,82.1 392.6,79.7 393.2,81.3 393.9,83.1 394.5,82.8 395.2,81.5 395.8,82.5 396.5,85.4 397.1,85.3 397.8,84.3 398.2,86.1 399.0,86.8 399.8,86.8 400.6,87.1 401.4,85.9 402.2,86.0 403.0,85.9 403.8,86.0 404.6,86.9 405.4,85.8 406.2,86.6 407.0,86.0 407.8,86.1 408.6,86.4 409.4,87.1 410.2,86.7 411.0,85.6 411.8,86.1 412.6,85.9 413.4,87.2 414.2,87.1 415.0,87.1 415.8,87.1 416.6,86.9 417.4,87.3 418.2,87.0 419.0,86.1 419.8,87.1 420.6,86.5 421.4,87.0 422.2,86.6 423.0,86.4 423.8,86.3 424.6,86.4 425.4,86.2 426.2,85.8 427.0,87.1 427.8,87.0 428.6,87.4 429.4,86.8 430.2,86.6 431.0,86.9 431.8,85.8 432.6,86.8 433.4,86.4 434.2,85.9 435.0,86.0 435.8,86.5 436.6,86.1 437.4,86.4 438.2,86.7 439.0,86.3 439.8,85.8 440.6,86.5 441.4,86.0 442.2,86.0 443.0,86.0 443.8,86.3 444.6,85.7 445.4,86.8 446.2,87.3 447.0,86.3 447.8,86.9 448.6,87.3 449.4,85.7 450.2,85.9 451.0,87.1 451.8,87.1 452.6,86.8 453.4,85.9 454.2,86.3 455.0,87.2 455.8,87.2 456.6,87.0 457.4,86.0 458.2,87.1 459.0,86.3 459.8,86.9 460.6,85.8 461.4,87.3 462.2,86.7 463.0,86.9 463.8,86.0" fill="none" stroke="#2ca02c" stroke-width="0.92" stroke-opacity="1" stroke-linejoin="round"/>
<rect x="440.2" y="14.3" width="42.80000000000001" height="34.2" rx="1" fill="#fff" fill-opacity="0.8" stroke="#e3e3e3" stroke-width="0.7"/>
<line x1="442.3" y1="18.5" x2="453.7" y2="18.5" stroke="#1f77b4" stroke-width="0.8" stroke-opacity="0.8"/>
<text x="458.0" y="20.4" font-size="5.5" fill="#111" class="t">Acc_x</text>
<line x1="442.3" y1="26.9" x2="453.7" y2="26.9" stroke="#ff7f0e" stroke-width="0.8" stroke-opacity="0.8"/>
<text x="458.0" y="28.799999999999997" font-size="5.5" fill="#111" class="t">Acc_y</text>
<line x1="442.3" y1="35.3" x2="453.7" y2="35.3" stroke="#2ca02c" stroke-width="0.8" stroke-opacity="0.8"/>
<text x="458.0" y="37.199999999999996" font-size="5.5" fill="#111" class="t">Acc_z</text>
<text x="458.0" y="45.599999999999994" font-size="5.5" fill="#111" class="t">Non-Fall</text>
</g>
<g>
<rect x="186.7" y="190.4" width="14.0" height="150.9" fill="#ccccff" stroke="#a9a9cf" stroke-width="0.7"/>
<rect x="17.9" y="190.4" width="464.70000000000005" height="150.9" fill="none" stroke="#b4b4b4" stroke-width="1"/>
<line x1="39.2" y1="341.3" x2="39.2" y2="342.7" stroke="#888" stroke-width="0.35"/>
<text transform="translate(39.20,345.40) scale(0.8,1)" font-size="3.2" text-anchor="middle" fill="#111" stroke="#111" stroke-width="0.08" class="t">0</text>
<line x1="127.2" y1="341.3" x2="127.2" y2="342.7" stroke="#888" stroke-width="0.35"/>
<text transform="translate(127.20,345.40) scale(0.8,1)" font-size="3.2" text-anchor="middle" fill="#111" stroke="#111" stroke-width="0.08" class="t">500</text>
<line x1="215.2" y1="341.3" x2="215.2" y2="342.7" stroke="#888" stroke-width="0.35"/>
<text transform="translate(215.20,345.40) scale(0.8,1)" font-size="3.2" text-anchor="middle" fill="#111" stroke="#111" stroke-width="0.08" class="t">1000</text>
<line x1="303.2" y1="341.3" x2="303.2" y2="342.7" stroke="#888" stroke-width="0.35"/>
<text transform="translate(303.20,345.40) scale(0.8,1)" font-size="3.2" text-anchor="middle" fill="#111" stroke="#111" stroke-width="0.08" class="t">1500</text>
<line x1="391.2" y1="341.3" x2="391.2" y2="342.7" stroke="#888" stroke-width="0.35"/>
<text transform="translate(391.20,345.40) scale(0.8,1)" font-size="3.2" text-anchor="middle" fill="#111" stroke="#111" stroke-width="0.08" class="t">2000</text>
<line x1="479.2" y1="341.3" x2="479.2" y2="342.7" stroke="#888" stroke-width="0.35"/>
<text transform="translate(479.20,345.40) scale(0.8,1)" font-size="3.2" text-anchor="middle" fill="#111" stroke="#111" stroke-width="0.08" class="t">2500</text>
<line x1="16.5" y1="192.835" x2="17.9" y2="192.835" stroke="#888" stroke-width="0.35"/>
<text transform="translate(16.00,193.99) scale(0.8,1)" font-size="3.2" text-anchor="end" fill="#111" stroke="#111" stroke-width="0.08" class="t">15</text>
<line x1="16.5" y1="213.19" x2="17.9" y2="213.19" stroke="#888" stroke-width="0.35"/>
<text transform="translate(16.00,214.34) scale(0.8,1)" font-size="3.2" text-anchor="end" fill="#111" stroke="#111" stroke-width="0.08" class="t">10</text>
<line x1="16.5" y1="233.54500000000002" x2="17.9" y2="233.54500000000002" stroke="#888" stroke-width="0.35"/>
<text transform="translate(16.00,234.70) scale(0.8,1)" font-size="3.2" text-anchor="end" fill="#111" stroke="#111" stroke-width="0.08" class="t">5</text>
<line x1="16.5" y1="253.9" x2="17.9" y2="253.9" stroke="#888" stroke-width="0.35"/>
<text transform="translate(16.00,255.05) scale(0.8,1)" font-size="3.2" text-anchor="end" fill="#111" stroke="#111" stroke-width="0.08" class="t">0</text>
<line x1="16.5" y1="274.255" x2="17.9" y2="274.255" stroke="#888" stroke-width="0.35"/>
<text transform="translate(16.00,275.40) scale(0.8,1)" font-size="3.2" text-anchor="end" fill="#111" stroke="#111" stroke-width="0.08" class="t">−5</text>
<line x1="16.5" y1="294.61" x2="17.9" y2="294.61" stroke="#888" stroke-width="0.35"/>
<text transform="translate(16.00,295.76) scale(0.8,1)" font-size="3.2" text-anchor="end" fill="#111" stroke="#111" stroke-width="0.08" class="t">−10</text>
<line x1="16.5" y1="314.96500000000003" x2="17.9" y2="314.96500000000003" stroke="#888" stroke-width="0.35"/>
<text transform="translate(16.00,316.12) scale(0.8,1)" font-size="3.2" text-anchor="end" fill="#111" stroke="#111" stroke-width="0.08" class="t">−15</text>
<line x1="16.5" y1="335.32" x2="17.9" y2="335.32" stroke="#888" stroke-width="0.35"/>
<text transform="translate(16.00,336.47) scale(0.8,1)" font-size="3.2" text-anchor="end" fill="#111" stroke="#111" stroke-width="0.08" class="t">−20</text>
<polyline points="38.8,255.3 39.6,256.1 40.4,256.0 41.2,255.8 42.0,255.4 42.8,256.2 43.6,256.2 44.4,255.8 45.2,255.8 46.0,255.4 46.8,255.1 47.6,255.6 48.4,255.9 49.2,255.2 50.0,256.2 50.8,255.4 51.6,255.4 52.4,255.2 53.2,256.5 54.0,256.1 54.8,256.3 55.6,256.0 56.4,255.1 57.2,255.6 58.0,255.8 58.8,255.3 59.6,256.4 60.4,255.6 61.2,255.3 62.0,256.2 62.8,255.3 63.6,256.4 64.4,255.7 65.2,255.9 66.0,255.6 66.8,255.8 67.6,255.4 68.4,255.2 69.2,256.3 70.0,255.4 70.8,256.2 71.6,255.4 72.4,256.5 73.2,256.4 74.0,256.2 74.8,256.2 75.6,255.9 76.4,256.1 77.2,255.3 78.0,255.8 78.8,256.3 79.6,255.4 80.4,256.4 81.2,256.3 82.0,255.7 82.8,255.6 83.6,255.7 84.4,255.6 85.0,256.4 89.2,256.1 92.1,255.8 94.2,255.0 94.9,249.6 95.3,261.9 96.0,254.8 97.0,256.3 98.4,254.6 99.1,257.7 99.9,252.0 100.6,256.5 101.7,251.4 102.4,256.5 103.4,253.9 104.2,257.9 105.5,255.5 106.9,257.2 108.3,258.1 109.8,257.5 111.2,255.2 113.3,255.0 115.4,254.8 116.8,256.0 118.2,257.1 119.7,255.9 121.1,254.6 122.1,257.7 122.9,253.3 123.5,248.6 124.0,253.1 124.6,255.0 125.3,249.2 126.0,254.3 127.1,255.7 128.8,257.9 130.3,256.6 132.4,256.2 134.5,255.2 136.6,256.4 138.7,256.0 140.9,255.2 143.0,256.2 145.1,255.0 147.2,256.3 150.0,254.7 154.0,254.7 158.1,253.7 159.1,246.6 160.1,254.7 161.1,249.6 162.1,255.7 164.1,257.7 166.2,254.7 168.2,255.7 169.2,248.6 170.2,254.7 171.2,257.7 172.2,249.6 173.8,255.7 175.3,251.7 177.3,254.7 179.3,252.7 181.3,254.7 183.3,253.7 185.4,254.7 186.4,252.7 187.4,259.7 188.8,262.8 190.4,251.7 191.4,240.6 192.4,239.5 193.4,251.7 194.0,245.6 194.5,261.8 194.9,314.3 195.4,251.7 195.7,233.5 196.1,213.3 196.7,196.7 197.3,225.4 198.1,251.7 198.7,267.8 199.5,245.6 200.5,239.5 201.5,241.6 202.5,251.7 203.5,254.7 205.6,261.8 206.6,257.7 208.6,249.6 209.6,247.6 210.6,253.7 212.6,254.7 214.6,252.7 216.7,253.7 218.7,250.7 219.7,252.7 220.7,249.6 221.7,253.7 223.1,245.6 223.7,252.7 225.8,251.7 230.8,252.7 236.9,252.3 242.9,252.7 250.0,252.7 250.5,253.6 251.4,252.9 252.3,252.8 253.2,253.6 254.1,252.9 255.6,250.2 256.8,253.1 257.7,253.6 258.6,253.0 259.5,253.6 260.4,253.0 261.3,253.3 262.2,253.6 263.1,253.4 264.0,253.6 264.9,253.4 265.8,252.8 266.7,253.5 267.6,253.3 268.5,253.0 269.4,252.9 270.3,253.5 271.2,253.3 272.1,253.6 273.0,253.4 273.9,253.6 274.8,253.3 275.7,253.4 276.6,253.3 277.5,253.0 278.4,253.6 279.3,253.0 280.2,253.5 281.1,253.6 282.0,253.3 282.9,252.9 283.8,253.5 284.7,253.4 285.6,252.9 286.5,252.8 287.4,253.2 288.3,252.8 289.2,253.6 290.1,253.2 291.0,253.2 291.9,253.1 292.8,253.3 293.7,253.6 294.6,253.0 295.5,253.1 296.4,253.3 297.3,253.0 298.2,253.3 299.1,253.2 300.0,253.1 300.9,253.4 301.8,253.2 302.7,252.8 303.6,253.6 304.5,253.1 305.4,253.1 306.3,253.1 307.2,253.6 308.1,253.6 309.0,253.2 309.9,253.1 310.8,252.8 311.7,253.6 312.6,252.9 313.5,253.2 314.4,253.1 315.2,247.7 315.9,258.0 317.0,251.5 318.0,252.8 318.9,253.2 319.8,253.5 320.7,253.3 321.6,252.9 322.5,253.4 323.4,252.8 324.3,253.1 325.2,253.5 326.1,253.6 327.0,253.2 327.9,253.5 328.8,253.2 329.7,253.2 330.6,253.3 331.5,253.6 332.4,253.4 333.3,253.2 334.2,253.4 335.1,253.3 336.0,253.1 337.0,255.5 337.8,253.5 338.5,255.3 339.6,253.6 340.5,252.8 341.4,253.2 342.3,253.3 343.2,253.1 344.1,252.9 345.0,253.4 345.9,253.1 346.8,253.0 347.7,252.8 348.6,253.6 349.5,253.1 350.4,252.9 351.3,252.9 352.2,253.0 353.1,253.5 354.0,252.9 354.9,253.0 355.8,252.8 356.7,253.2 357.6,252.9 358.5,253.1 359.4,253.4 360.3,253.6 361.2,253.5 362.1,252.8 363.0,253.1 363.9,253.5 364.8,252.8 365.7,252.9 366.6,253.2 367.5,253.1 368.4,253.4 369.3,253.4 370.2,253.2 371.1,253.0 372.0,253.0 372.9,253.0 373.8,252.8 374.7,253.3 375.6,252.9 376.5,253.6 377.4,253.3 378.3,252.8 379.2,253.2 380.1,253.3 381.0,252.8 381.9,253.2 382.8,252.8 383.7,253.4 384.6,252.8 385.5,253.3 386.5,250.8 387.3,253.5 388.2,253.0 389.1,253.2 390.0,252.9 390.9,253.1 391.8,253.5 392.7,253.5 393.6,252.8 394.5,253.1 395.4,253.3 396.3,252.9 397.2,253.5 398.1,253.6 399.0,253.2 399.9,253.1 400.8,253.5 401.7,253.2 402.6,252.9 403.5,253.0 404.4,252.9 405.3,253.5 406.2,253.2 407.1,253.4 408.0,253.5 408.9,253.6 409.8,252.9 410.7,253.1 411.6,253.5 412.5,253.4 413.4,253.1 414.3,253.3 415.2,252.9 416.1,252.9 417.0,252.8 417.9,253.1 418.8,253.0 419.7,253.2 420.6,253.6 421.5,252.9 422.4,253.3 423.3,253.5 424.2,253.3 425.0,255.4 426.0,253.4 426.9,252.8 427.8,253.6 428.7,253.4 429.6,253.5 430.5,253.5 431.4,252.8 432.3,252.8 433.2,252.9 434.1,253.2 435.0,253.6 435.9,253.6 436.8,253.1 437.7,253.3 438.6,253.4 439.5,253.0 440.4,253.6 441.3,253.6 442.2,253.4 443.1,253.6 444.0,253.5 444.9,253.3 445.8,253.0 446.7,253.0 447.6,253.0 448.5,252.8 449.4,253.6 450.3,253.0 451.2,252.8 452.1,253.0 453.0,252.8 453.9,253.2 454.8,253.0 455.7,252.9 456.6,253.2 457.5,253.1 458.4,253.1 459.3,253.5 460.2,253.0 461.1,253.2 461.7,249.5" fill="none" stroke="#1f77b4" stroke-width="0.75" stroke-opacity="1" stroke-linejoin="round"/>
<polyline points="38.8,254.4 40.3,254.4 41.8,254.4 43.3,254.0 44.8,254.2 46.3,254.2 47.8,254.2 49.3,254.0 50.8,254.0 52.3,254.2 53.8,254.1 55.3,254.2 56.8,254.0 58.3,254.0 59.8,254.3 61.3,254.2 62.8,254.2 64.3,254.3 65.8,254.1 67.3,254.0 68.8,254.3 70.3,254.2 71.8,254.3 73.3,254.3 74.8,254.4 76.3,254.1 77.8,254.3 79.3,254.1 80.8,254.2 82.3,254.3 83.8,254.1 85.3,254.0 86.8,254.2 88.3,254.3 89.8,254.2 91.3,254.2 92.8,254.3 94.3,254.0 95.8,254.0 97.3,254.1 98.8,254.4 100.3,254.0 101.8,254.0 103.3,254.0 104.8,254.0 106.3,254.1 107.8,254.2 109.3,254.4 110.8,254.1 112.3,254.1 113.8,254.1 115.3,254.1 116.8,254.3 118.3,254.2 119.8,254.1 121.3,254.0 122.8,254.3 124.3,254.3 125.8,254.4 127.3,254.1 128.8,254.2 130.3,254.4 131.8,254.2 133.3,254.4 134.8,254.0 136.3,254.4 137.8,254.0 139.3,254.2 140.8,254.0 142.3,254.4 143.8,254.3 145.3,254.4 146.8,254.4 148.3,254.4 149.8,254.2 150.0,254.7 162.1,254.7 165.2,255.7 168.2,257.7 170.2,260.8 172.2,256.7 175.3,254.7 178.3,252.7 180.3,251.7 182.3,247.6 184.3,244.6 186.4,242.6 187.4,241.6 188.4,243.6 189.4,247.6 190.4,253.7 192.0,261.8 193.0,273.9 193.7,333.5 194.3,273.9 195.3,245.6 196.3,225.4 196.9,214.3 197.5,235.5 198.1,245.6 198.7,257.7 199.5,253.7 200.5,251.7 202.5,252.7 204.5,254.7 210.6,254.3 250.0,253.7 250.5,253.1 252.0,253.2 253.5,252.8 255.0,253.2 256.5,252.8 258.0,253.1 259.5,252.8 261.0,253.1 262.5,252.8 264.0,253.1 265.5,253.1 267.0,253.1 268.5,253.0 270.0,253.2 271.5,253.2 273.0,252.8 274.5,253.0 276.0,253.2 277.5,253.1 279.0,253.0 280.5,252.9 282.0,253.2 283.5,252.8 285.0,253.1 286.5,253.2 288.0,252.8 289.5,252.9 291.0,252.9 292.5,253.0 294.0,252.9 295.5,253.2 297.0,253.2 298.5,252.9 300.0,253.2 301.5,252.8 303.0,252.8 304.5,253.1 306.0,253.1 307.5,253.2 309.0,253.2 310.5,253.2 312.0,252.9 313.5,253.1 315.0,253.2 316.5,252.8 318.0,253.0 319.5,252.8 321.0,252.8 322.5,253.0 324.0,253.1 325.5,253.2 327.0,252.8 328.5,253.0 330.0,253.2 331.5,253.1 333.0,253.0 334.5,252.9 336.0,253.1 337.5,252.9 339.0,253.1 340.5,253.1 342.0,252.9 343.5,253.1 345.0,253.0 346.5,253.0 348.0,253.2 349.5,252.9 351.0,252.8 352.5,253.0 354.0,253.0 355.5,253.2 357.0,252.9 358.5,252.9 360.0,252.8 361.5,253.0 363.0,252.9 364.5,253.0 366.0,253.1 367.5,252.8 369.0,253.2 370.5,253.1 372.0,253.2 373.5,253.0 375.0,253.0 376.5,253.0 378.0,252.9 379.5,252.9 381.0,252.9 382.5,252.9 384.0,252.9 385.5,253.2 387.0,253.1 388.5,253.1 390.0,252.8 391.5,252.9 393.0,253.0 394.5,253.1 396.0,253.0 397.5,253.1 399.0,253.2 400.5,252.9 402.0,252.9 403.5,253.1 405.0,252.9 406.5,253.1 408.0,252.9 409.5,252.8 411.0,253.0 412.5,252.8 414.0,253.1 415.5,253.2 417.0,253.0 418.5,253.2 420.0,252.9 421.5,253.0 423.0,252.8 424.5,252.8 426.0,253.2 427.5,252.8 429.0,253.2 430.5,253.0 432.0,253.1 433.5,252.8 435.0,253.2 436.5,253.1 438.0,252.8 439.5,252.8 441.0,252.8 442.5,253.0 444.0,252.8 445.5,253.1 447.0,253.0 448.5,253.1 450.0,252.9 451.5,253.1 453.0,253.0 454.5,253.1 456.0,253.0 457.5,253.2 459.0,253.2 460.5,253.2" fill="none" stroke="#ff7f0e" stroke-width="0.75" stroke-opacity="1" stroke-linejoin="round"/>
<polyline points="38.8,253.3 40.1,253.7 41.4,253.6 42.7,253.2 44.0,253.6 45.3,253.5 46.6,253.1 47.9,253.7 49.2,253.3 50.5,253.3 51.8,253.4 53.1,253.5 54.4,253.2 55.7,253.5 57.0,253.6 58.3,253.4 59.6,253.6 60.9,253.5 62.2,253.6 63.5,253.2 64.8,253.3 66.1,253.4 67.4,253.2 68.7,253.7 70.0,253.5 71.3,253.2 72.6,253.4 73.9,253.3 75.2,253.2 76.5,253.2 77.8,253.4 79.1,253.1 80.4,253.4 81.7,253.4 83.0,253.2 84.3,253.6 85.6,253.1 86.9,253.2 88.2,253.6 89.5,253.2 90.8,253.4 92.1,253.4 93.4,253.4 94.7,253.4 96.0,253.4 97.3,253.4 98.6,253.1 99.9,253.6 101.2,253.3 102.5,253.1 103.8,253.3 105.1,253.6 106.4,253.5 107.7,253.4 109.0,253.4 110.3,253.2 111.6,253.5 112.9,253.3 114.2,253.1 115.5,253.2 116.8,253.2 118.1,253.5 119.4,253.6 120.7,253.6 122.0,253.2 123.3,253.2 124.6,253.7 125.9,253.3 127.2,253.2 128.5,253.4 129.8,253.5 131.1,253.4 132.4,253.4 133.7,253.3 135.0,253.4 136.3,253.4 137.6,253.5 138.9,253.4 140.2,253.3 141.5,253.7 142.8,253.2 144.1,253.6 145.4,253.4 146.7,253.6 148.0,253.5 149.3,253.4 150.0,254.7 160.1,254.7 164.1,255.7 168.2,258.7 170.2,260.8 172.2,265.8 175.3,267.8 178.3,268.8 180.3,268.8 183.3,266.8 186.4,264.8 188.4,262.8 190.4,264.8 191.8,251.7 192.8,235.5 193.4,226.4 193.8,237.5 194.2,261.8 194.6,324.4 195.1,273.9 195.9,251.7 196.7,245.6 197.7,235.5 198.5,239.5 199.1,245.6 199.7,251.7 200.5,254.7 202.5,254.7 210.6,254.7 250.0,253.7 250.5,252.8 251.8,252.5 253.1,252.5 254.4,252.8 255.7,252.4 257.0,252.9 258.3,252.9 259.6,252.4 260.9,252.8 262.2,252.7 263.5,252.8 264.8,253.0 266.1,253.0 267.4,252.6 268.7,252.9 270.0,252.9 271.3,253.0 272.6,252.4 273.9,253.0 275.2,252.5 276.5,252.5 277.8,252.8 279.1,252.9 280.4,253.0 281.7,252.6 283.0,252.9 284.3,252.4 285.6,253.0 286.9,252.6 288.2,252.7 289.5,252.5 290.8,252.4 292.1,252.4 293.4,252.8 294.7,252.7 296.0,252.9 297.3,252.9 298.6,252.7 299.9,252.9 301.2,252.5 302.5,252.9 303.8,252.6 305.1,253.0 306.4,252.6 307.7,252.7 309.0,252.7 310.3,252.4 311.6,252.4 312.9,252.7 314.2,252.8 315.5,252.4 316.8,252.6 318.1,252.6 319.4,252.9 320.7,253.0 322.0,252.5 323.3,252.7 324.6,252.5 325.9,252.9 327.2,253.0 328.5,252.8 329.8,252.7 331.1,252.4 332.4,252.5 333.7,252.5 335.0,252.4 336.3,252.5 337.6,253.0 338.9,252.6 340.2,252.9 341.5,252.9 342.8,252.9 344.1,252.9 345.4,252.8 346.7,252.6 348.0,252.7 349.3,252.6 350.6,252.4 351.9,252.4 353.2,252.7 354.5,252.7 355.8,253.0 357.1,252.8 358.4,252.9 359.7,252.7 361.0,252.7 362.3,252.9 363.6,252.4 364.9,252.4 366.2,252.7 367.5,252.6 368.8,252.7 370.1,252.4 371.4,252.5 372.7,252.5 374.0,252.8 375.3,252.4 376.6,252.4 377.9,252.8 379.2,252.7 380.5,252.4 381.8,253.0 383.1,252.7 384.4,253.0 385.7,252.8 387.0,252.7 388.3,252.6 389.6,252.5 390.9,253.0 392.2,252.7 393.5,252.6 394.8,252.5 396.1,252.8 397.4,253.0 398.7,252.6 400.0,252.9 401.3,252.8 402.6,252.7 403.9,252.8 405.2,252.8 406.5,253.0 407.8,252.4 409.1,252.5 410.4,252.5 411.7,252.4 413.0,252.6 414.3,252.7 415.6,252.5 416.9,252.7 418.2,252.4 419.5,252.9 420.8,252.8 422.1,252.5 423.4,252.5 424.7,252.9 426.0,252.5 427.3,252.8 428.6,252.4 429.9,252.8 431.2,252.8 432.5,252.7 433.8,252.9 435.1,253.0 436.4,253.0 437.7,252.4 439.0,252.7 440.3,252.5 441.6,252.8 442.9,252.5 444.2,252.5 445.5,252.4 446.8,252.4 448.1,252.6 449.4,252.5 450.7,252.7 452.0,252.9 453.3,252.8 454.6,252.6 455.9,252.6 457.2,252.9 458.5,252.6 459.8,252.8 461.1,253.0" fill="none" stroke="#2ca02c" stroke-width="0.75" stroke-opacity="1" stroke-linejoin="round"/>
<rect x="438.0" y="192.7" width="42.60000000000002" height="42.900000000000006" rx="1" fill="#fff" fill-opacity="0.8" stroke="#e3e3e3" stroke-width="0.7"/>
<line x1="440.1" y1="197.3" x2="451.5" y2="197.3" stroke="#1f77b4" stroke-width="0.8" stroke-opacity="0.8"/>
<text x="455.8" y="199.20000000000002" font-size="5.5" fill="#111" class="t">Acc_x</text>
<line x1="440.1" y1="205.55" x2="451.5" y2="205.55" stroke="#ff7f0e" stroke-width="0.8" stroke-opacity="0.8"/>
<text x="455.8" y="207.45000000000002" font-size="5.5" fill="#111" class="t">Acc_y</text>
<line x1="440.1" y1="213.8" x2="451.5" y2="213.8" stroke="#2ca02c" stroke-width="0.8" stroke-opacity="0.8"/>
<text x="455.8" y="215.70000000000002" font-size="5.5" fill="#111" class="t">Acc_z</text>
<text x="455.8" y="223.95000000000002" font-size="5.5" fill="#111" class="t">Non-Fall</text>
<rect x="440.1" y="228.60000000000002" width="11.4" height="3.4" fill="#ccccff"/>
<text x="455.8" y="232.20000000000002" font-size="5.5" fill="#111" class="t">Pre-Fall</text>
</g>
<g>
<rect x="198.5" y="368.5" width="14.199999999999989" height="151.0" fill="#ccccff" stroke="#a9a9cf" stroke-width="0.7"/>
<rect x="212.7" y="368.5" width="12.800000000000011" height="151.0" fill="#ffedcc" stroke="#c9bda8" stroke-width="0.7"/>
<rect x="17.9" y="368.5" width="464.70000000000005" height="151.0" fill="none" stroke="#b4b4b4" stroke-width="1"/>
<line x1="39.2" y1="519.5" x2="39.2" y2="520.9" stroke="#888" stroke-width="0.35"/>
<text transform="translate(39.20,523.60) scale(0.8,1)" font-size="3.2" text-anchor="middle" fill="#111" stroke="#111" stroke-width="0.08" class="t">0</text>
<line x1="109.67" y1="519.5" x2="109.67" y2="520.9" stroke="#888" stroke-width="0.35"/>
<text transform="translate(109.67,523.60) scale(0.8,1)" font-size="3.2" text-anchor="middle" fill="#111" stroke="#111" stroke-width="0.08" class="t">500</text>
<line x1="180.14" y1="519.5" x2="180.14" y2="520.9" stroke="#888" stroke-width="0.35"/>
<text transform="translate(180.14,523.60) scale(0.8,1)" font-size="3.2" text-anchor="middle" fill="#111" stroke="#111" stroke-width="0.08" class="t">1000</text>
<line x1="250.61" y1="519.5" x2="250.61" y2="520.9" stroke="#888" stroke-width="0.35"/>
<text transform="translate(250.61,523.60) scale(0.8,1)" font-size="3.2" text-anchor="middle" fill="#111" stroke="#111" stroke-width="0.08" class="t">1500</text>
<line x1="321.08" y1="519.5" x2="321.08" y2="520.9" stroke="#888" stroke-width="0.35"/>
<text transform="translate(321.08,523.60) scale(0.8,1)" font-size="3.2" text-anchor="middle" fill="#111" stroke="#111" stroke-width="0.08" class="t">2000</text>
<line x1="391.55" y1="519.5" x2="391.55" y2="520.9" stroke="#888" stroke-width="0.35"/>
<text transform="translate(391.55,523.60) scale(0.8,1)" font-size="3.2" text-anchor="middle" fill="#111" stroke="#111" stroke-width="0.08" class="t">2500</text>
<line x1="462.02" y1="519.5" x2="462.02" y2="520.9" stroke="#888" stroke-width="0.35"/>
<text transform="translate(462.02,523.60) scale(0.8,1)" font-size="3.2" text-anchor="middle" fill="#111" stroke="#111" stroke-width="0.08" class="t">3000</text>
<line x1="16.5" y1="394.70000000000005" x2="17.9" y2="394.70000000000005" stroke="#888" stroke-width="0.35"/>
<text transform="translate(16.00,395.85) scale(0.8,1)" font-size="3.2" text-anchor="end" fill="#111" stroke="#111" stroke-width="0.08" class="t">10</text>
<line x1="16.5" y1="424.6" x2="17.9" y2="424.6" stroke="#888" stroke-width="0.35"/>
<text transform="translate(16.00,425.75) scale(0.8,1)" font-size="3.2" text-anchor="end" fill="#111" stroke="#111" stroke-width="0.08" class="t">0</text>
<line x1="16.5" y1="454.5" x2="17.9" y2="454.5" stroke="#888" stroke-width="0.35"/>
<text transform="translate(16.00,455.65) scale(0.8,1)" font-size="3.2" text-anchor="end" fill="#111" stroke="#111" stroke-width="0.08" class="t">−10</text>
<line x1="16.5" y1="484.40000000000003" x2="17.9" y2="484.40000000000003" stroke="#888" stroke-width="0.35"/>
<text transform="translate(16.00,485.55) scale(0.8,1)" font-size="3.2" text-anchor="end" fill="#111" stroke="#111" stroke-width="0.08" class="t">−20</text>
<line x1="16.5" y1="514.3000000000001" x2="17.9" y2="514.3000000000001" stroke="#888" stroke-width="0.35"/>
<text transform="translate(16.00,515.45) scale(0.8,1)" font-size="3.2" text-anchor="end" fill="#111" stroke="#111" stroke-width="0.08" class="t">−30</text>
<polyline points="39.2,421.3 40.2,421.8 41.2,420.3 42.0,421.6 42.3,420.2 43.3,416.9 44.1,421.4 45.0,423.3 46.0,418.9 47.0,422.3 48.0,425.5 49.0,422.4 50.0,420.4 50.8,418.3 51.7,421.0 52.5,421.9 53.1,420.4 54.1,416.5 54.9,421.2 55.8,423.3 56.8,418.3 57.8,422.4 58.8,425.6 59.8,422.3 60.8,420.6 61.6,418.3 62.5,421.1 63.3,421.6 64.2,420.6 65.2,417.7 66.0,421.5 66.9,423.1 67.9,419.3 68.9,421.8 69.9,424.2 70.9,422.1 71.9,420.3 72.7,419.0 73.6,421.4 74.4,421.3 74.7,420.3 75.7,416.8 76.5,421.7 77.4,423.6 78.4,418.7 79.4,422.2 80.4,425.5 81.4,422.2 82.4,420.5 83.2,418.5 84.1,421.1 84.9,421.7 86.4,420.5 87.4,416.7 88.2,421.3 89.1,423.7 90.1,418.9 91.1,422.1 92.1,425.7 93.1,422.2 94.1,420.5 94.9,418.0 95.8,421.4 96.6,421.7 96.5,420.4 97.5,417.2 98.3,421.2 99.2,423.3 100.2,418.7 101.2,422.0 102.2,425.1 103.2,422.3 104.2,420.4 105.0,418.1 105.9,421.3 106.7,421.4 107.0,420.4 108.0,416.9 108.8,421.8 109.7,423.2 110.7,419.1 111.7,422.3 112.7,425.3 113.7,421.9 114.7,420.7 115.5,418.4 116.4,421.1 117.2,421.5 117.7,420.8 118.7,417.5 119.5,421.5 120.4,423.0 121.4,419.0 122.4,422.0 123.4,424.7 124.4,421.9 125.4,420.7 126.2,418.8 127.1,420.9 127.9,421.4 128.3,420.4 129.3,416.5 130.1,421.5 131.0,423.5 132.0,418.3 133.0,422.2 134.0,425.9 135.0,421.9 136.0,420.2 136.8,418.3 137.7,421.4 138.5,421.8 139.0,420.7 140.0,416.1 140.8,421.5 141.7,423.5 142.7,418.5 143.7,422.2 144.7,426.2 145.7,422.1 146.7,420.0 147.5,418.1 148.4,421.0 149.2,421.8 149.7,420.3 150.7,417.2 151.5,421.2 152.4,423.1 153.4,419.2 154.4,422.1 155.4,425.0 156.4,421.8 157.4,420.7 158.2,418.6 159.1,421.4 159.9,421.4 159.9,420.6 160.9,417.9 161.7,421.6 162.6,423.0 163.6,419.2 164.6,421.7 165.6,424.4 166.6,421.7 167.6,420.5 168.4,418.8 169.3,421.4 170.1,421.4 171.2,420.6 172.2,417.7 173.0,421.5 173.9,422.8 174.9,419.4 175.9,422.0 176.9,424.3 177.9,421.8 178.9,420.7 179.7,419.2 180.6,421.3 181.4,421.5 182.5,420.5 183.5,418.0 184.3,421.4 185.2,422.9 186.2,419.1 187.2,421.8 188.2,424.1 189.2,421.9 190.2,420.9 191.0,419.1 191.9,421.4 192.7,421.4 188.8,422.6 190.4,425.1 192.0,420.2 193.6,424.2 195.3,419.4 196.9,422.6 197.9,419.2 199.7,416.2 200.7,425.3 201.5,433.8 202.5,426.5 203.3,419.2 204.3,431.4 205.2,437.4 206.0,426.5 207.0,416.8 207.9,412.0 208.8,408.3 209.4,422.9 210.1,431.4 210.8,421.7 211.8,418.0 213.0,424.1 214.8,424.7 216.1,427.1 217.9,428.3 219.7,426.5 221.5,425.3 225.2,425.2 250.0,425.2 461.8,425.2" fill="none" stroke="#1f77b4" stroke-width="0.75" stroke-opacity="1" stroke-linejoin="round"/>
<polyline points="39.2,426.3 41.0,424.4 42.3,422.9 42.9,423.1 43.6,425.4 44.1,431.4 44.5,432.7 45.2,429.3 46.0,427.2 46.8,429.2 47.5,428.0 48.5,428.8 49.5,426.7 50.5,424.8 51.5,423.4 52.5,423.2 53.7,422.7 54.4,425.2 54.9,431.1 55.3,433.0 56.0,429.2 56.8,426.9 57.6,429.3 58.3,427.6 59.3,429.2 60.3,426.7 61.3,424.9 62.3,423.6 63.3,423.2 64.8,423.0 65.5,425.3 66.0,431.1 66.4,432.4 67.1,429.4 67.9,426.6 68.7,428.8 69.4,427.7 70.4,429.1 71.4,426.5 72.4,425.1 73.4,423.4 74.4,423.1 75.3,423.0 76.0,425.1 76.5,431.4 76.9,433.1 77.6,429.7 78.4,427.0 79.2,429.3 79.9,428.3 80.9,429.4 81.9,427.2 82.9,425.0 83.9,423.4 84.9,423.3 87.0,423.0 87.7,424.9 88.2,430.5 88.6,431.9 89.3,428.6 90.1,426.2 90.9,428.4 91.6,427.1 92.6,428.4 93.6,426.3 94.6,424.9 95.6,423.5 96.6,423.4 97.1,423.0 97.8,425.3 98.3,431.4 98.7,432.8 99.4,429.2 100.2,427.0 101.0,429.3 101.7,427.7 102.7,429.2 103.7,426.9 104.7,424.7 105.7,423.4 106.7,423.0 107.6,423.1 108.3,425.4 108.8,430.9 109.2,432.9 109.9,429.2 110.7,426.8 111.5,428.7 112.2,427.7 113.2,428.9 114.2,426.9 115.2,425.2 116.2,423.5 117.2,423.1 118.3,422.7 119.0,425.3 119.5,432.2 119.9,434.2 120.6,429.9 121.4,427.6 122.2,430.0 122.9,428.1 123.9,429.7 124.9,427.1 125.9,425.4 126.9,423.6 127.9,423.0 128.9,422.8 129.6,424.8 130.1,430.9 130.5,432.4 131.2,429.0 132.0,426.9 132.8,428.8 133.5,427.5 134.5,428.9 135.5,426.5 136.5,424.8 137.5,423.6 138.5,423.0 139.6,423.2 140.3,424.9 140.8,429.2 141.2,431.2 141.9,427.9 142.7,426.3 143.5,428.2 144.2,427.0 145.2,427.6 146.2,425.9 147.2,424.8 148.2,423.2 149.2,423.3 150.3,422.9 151.0,425.0 151.5,430.9 151.9,432.4 152.6,429.2 153.4,426.8 154.2,428.6 154.9,427.4 155.9,428.7 156.9,426.8 157.9,424.7 158.9,423.5 159.9,423.3 160.5,422.7 161.2,425.3 161.7,431.1 162.1,432.9 162.8,429.1 163.6,427.2 164.4,429.2 165.1,428.0 166.1,429.0 167.1,427.0 168.1,424.9 169.1,423.5 170.1,423.2 171.8,422.7 172.5,424.8 173.0,430.1 173.4,431.5 174.1,428.8 174.9,426.4 175.7,428.6 176.4,427.3 177.4,428.4 178.4,426.3 179.4,425.0 180.4,423.1 181.4,423.3 183.1,422.9 183.8,425.4 184.3,431.8 184.7,434.2 185.4,430.3 186.2,427.4 187.0,429.7 187.7,428.1 188.7,429.4 189.7,427.4 190.7,425.1 191.7,423.7 192.7,422.9 188.8,429.9 191.2,426.7 192.8,422.6 195.3,421.0 197.2,424.2 198.5,422.9 200.3,424.7 201.5,426.5 202.7,419.2 203.6,413.2 204.3,409.5 205.0,426.5 205.8,436.2 206.5,431.4 207.0,414.4 207.6,404.1 208.2,424.1 208.5,439.8 209.2,431.4 209.8,415.6 210.6,425.3 211.6,422.9 213.0,419.8 214.8,421.1 216.7,420.7 218.5,423.1 220.3,424.1 222.7,423.5 226.4,423.1 250.0,423.1 461.8,423.1" fill="none" stroke="#ff7f0e" stroke-width="0.75" stroke-opacity="1" stroke-linejoin="round"/>
<polyline points="39.2,421.0 40.4,420.4 41.5,421.4 41.9,420.5 43.5,420.0 44.4,422.5 45.2,430.0 46.0,424.1 46.7,426.7 47.5,422.9 49.0,420.3 50.5,421.8 52.0,419.8 52.7,420.6 54.3,420.0 55.2,422.9 56.0,430.7 56.8,424.6 57.5,427.4 58.3,423.1 59.8,420.7 61.3,421.5 62.8,420.0 63.8,420.7 65.4,420.0 66.3,422.4 67.1,429.7 67.9,424.1 68.6,427.3 69.4,422.6 70.9,420.3 72.4,422.0 73.9,420.0 74.3,420.7 75.9,419.9 76.8,422.7 77.6,430.6 78.4,424.2 79.1,427.9 79.9,423.2 81.4,420.5 82.9,421.8 84.4,419.8 86.0,420.8 87.6,420.4 88.5,422.5 89.3,428.6 90.1,423.4 90.8,426.2 91.6,422.7 93.1,420.8 94.6,421.9 96.1,420.5 96.1,420.6 97.7,420.2 98.6,422.2 99.4,427.9 100.2,423.2 100.9,425.5 101.7,422.4 103.2,420.6 104.7,421.7 106.2,420.3 106.6,421.1 108.2,420.1 109.1,422.0 109.9,427.7 110.7,423.3 111.4,425.3 112.2,422.4 113.7,420.9 115.2,421.5 116.7,420.3 117.3,420.7 118.9,420.1 119.8,422.7 120.6,428.3 121.4,423.6 122.1,426.0 122.9,422.6 124.4,420.7 125.9,421.8 127.4,420.0 127.9,420.6 129.5,420.3 130.4,422.5 131.2,430.9 132.0,424.3 132.7,427.5 133.5,422.8 135.0,420.7 136.5,422.0 138.0,419.7 138.6,420.8 140.2,420.0 141.1,422.7 141.9,429.4 142.7,423.6 143.4,426.8 144.2,422.5 145.7,420.3 147.2,421.8 148.7,420.2 149.3,420.5 150.9,420.2 151.8,422.5 152.6,430.4 153.4,424.3 154.1,427.3 154.9,423.1 156.4,420.5 157.9,421.7 159.4,420.1 159.5,421.0 161.1,420.4 162.0,422.0 162.8,427.4 163.6,423.1 164.3,425.3 165.1,422.6 166.6,420.7 168.1,421.7 169.6,420.0 170.8,420.6 172.4,419.9 173.3,423.2 174.1,432.2 174.9,424.6 175.6,428.4 176.4,423.1 177.9,420.1 179.4,421.8 180.9,420.0 182.1,420.5 183.7,419.6 184.6,423.0 185.4,432.2 186.2,424.6 186.9,428.6 187.7,423.1 189.2,420.1 190.7,421.6 192.2,420.0 188.8,424.2 190.4,419.4 192.0,424.2 193.6,418.6 195.3,422.6 196.9,420.2 198.5,424.7 200.3,422.9 201.5,428.9 202.5,431.4 203.1,407.1 203.5,375.0 203.8,431.4 204.2,512.0 204.5,455.6 205.0,443.5 205.4,435.0 206.2,425.3 207.0,418.0 207.8,428.9 208.8,435.0 209.6,424.1 210.6,420.5 211.8,424.1 213.6,425.3 215.5,426.8 217.3,424.7 219.1,423.8 220.9,424.7 223.3,425.9 226.4,426.2 242.8,426.2 243.2,422.9 243.5,427.1 243.8,426.2 250.0,426.2 461.8,426.1" fill="none" stroke="#2ca02c" stroke-width="0.75" stroke-opacity="1" stroke-linejoin="round"/>
<rect x="438.0" y="371.3" width="42.60000000000002" height="49.5" rx="1" fill="#fff" fill-opacity="0.8" stroke="#e3e3e3" stroke-width="0.7"/>
<line x1="440.1" y1="375.8" x2="451.5" y2="375.8" stroke="#1f77b4" stroke-width="0.8" stroke-opacity="0.8"/>
<text x="455.8" y="377.7" font-size="5.5" fill="#111" class="t">Acc_x</text>
<line x1="440.1" y1="384.02000000000004" x2="451.5" y2="384.02000000000004" stroke="#ff7f0e" stroke-width="0.8" stroke-opacity="0.8"/>
<text x="455.8" y="385.92" font-size="5.5" fill="#111" class="t">Acc_y</text>
<line x1="440.1" y1="392.24000000000007" x2="451.5" y2="392.24000000000007" stroke="#2ca02c" stroke-width="0.8" stroke-opacity="0.8"/>
<text x="455.8" y="394.14000000000004" font-size="5.5" fill="#111" class="t">Acc_z</text>
<text x="455.8" y="402.36000000000007" font-size="5.5" fill="#111" class="t">Non-Fall</text>
<rect x="440.1" y="406.98000000000013" width="11.4" height="3.4" fill="#ccccff"/>
<text x="455.8" y="410.5800000000001" font-size="5.5" fill="#111" class="t">Pre-Fall</text>
<rect x="440.1" y="415.20000000000016" width="11.4" height="3.4" fill="#ffedcc"/>
<text x="455.8" y="418.8000000000001" font-size="5.5" fill="#111" class="t">Fall</text>
</g>
<text x="77.3" y="180.5" font-size="11.68" fill="#000" stroke="#000" stroke-width="0.14" class="c">(a) : Signals of accelerometer data while Walking stairs (slowly)</text>
<text x="83.3" y="360.2" font-size="11.68" fill="#000" stroke="#000" stroke-width="0.14" class="c">(b) : Signals of accelerometer data while Sitting (collapse down)</text>
<text x="75.6" y="540.6" font-size="11.68" fill="#000" stroke="#000" stroke-width="0.14" class="c">(c) : Signals of accelerometer data of falling forward while jogging(trip)</text>
</svg>
</body></html>
